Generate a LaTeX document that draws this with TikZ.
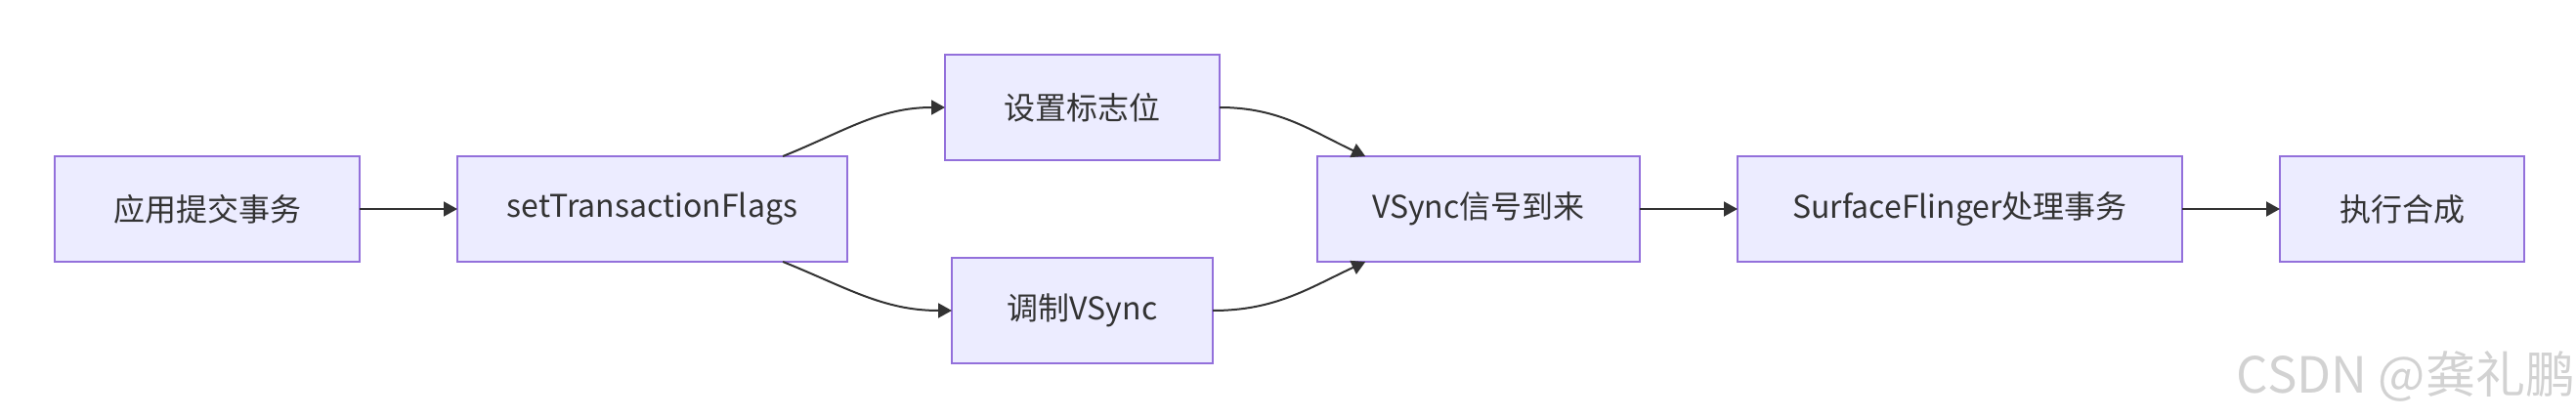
\documentclass[tikz,border=0pt]{standalone}
\usepackage{fontspec}
\setmainfont{Noto Sans CJK SC}
\usetikzlibrary{positioning, arrows.meta}
\definecolor{boxfill}{HTML}{ECECFF}
\definecolor{boxline}{HTML}{9370DB}
\definecolor{edgecol}{HTML}{333333}
\tikzset{
  flow/.style={
	->, % makes the edges directed
	>={Triangle[length=7pt,width=7.5pt]}, % filled arrow heads
	line width=1pt, % edge thickness
	node distance=50pt, % gap between two boxes
  },
  box/.style={draw=boxline, line width=1pt, fill=boxfill, text=edgecol, minimum height=54pt, inner sep=0pt, outer sep=0pt, font=\fontsize{16pt}{19pt}\selectfont}, % every step box
}

\begin{document}
\begin{tikzpicture}[flow]
\useasboundingbox (0,0) rectangle (1318pt,-214pt);

\node[box, minimum width=156pt] (app) at (106pt,-107pt) {应用提交事务};
\node[box, minimum width=199.5pt, right=50pt of app] (flags) {setTransactionFlags};
\node[box, minimum width=140.5pt, right=50pt of flags, yshift=52pt] (setbit) {设置标志位};
\node[box, minimum width=133.5pt, below=50pt of setbit] (mod) {调制VSync};
\node[box, minimum width=165pt, right=50pt of setbit, yshift=-52pt] (vsync) {VSync信号到来};
\node[box, minimum width=227.5pt, right=50pt of vsync] (sf) {SurfaceFlinger处理事务};
\node[box, minimum width=125pt, right=50pt of sf] (comp) {执行合成};

% watermark
\node[text=gray!35, inner sep=0pt, anchor=east, font=\fontsize{25.5pt}{30pt}\selectfont] (mark) at (1318pt,-192.5pt) {CSDN @龚礼鹏};

\draw[edgecol] (app) edge (flags)
	(flags) edge[out=22, in=180] (setbit)
	(flags) edge[out=-22, in=180] (mod)
	(setbit) edge[out=0, in=155] (vsync)
	(mod) edge[out=0, in=-155] (vsync)
	(vsync) edge (sf)
	(sf) edge (comp)
;
\end{tikzpicture}
\end{document}
